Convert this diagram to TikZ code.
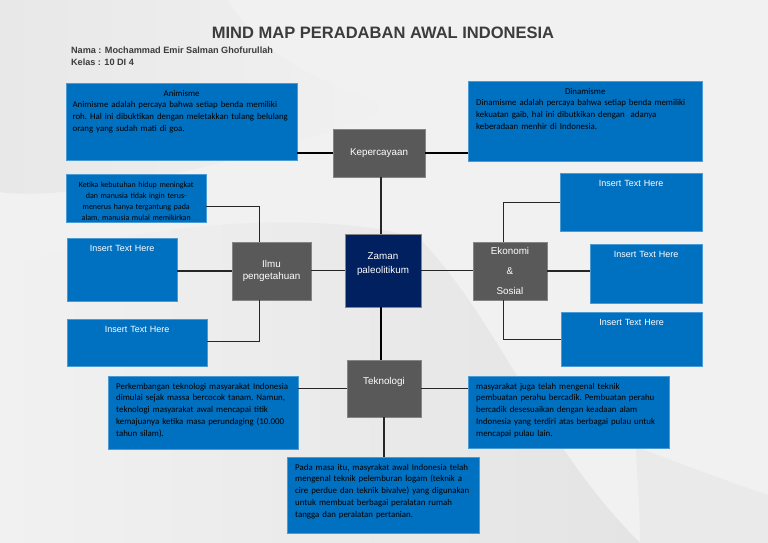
\documentclass[tikz,border=0pt]{standalone}
\usepackage{fontspec}
\setmainfont{Carlito}
\newfontfamily\arialfont{Liberation Sans}
\usetikzlibrary{positioning}
\definecolor{boxblue}{HTML}{0070C0}
\definecolor{boxedge}{HTML}{4A9BD4}
\definecolor{boxgrey}{HTML}{595959}
\definecolor{greyedge}{HTML}{858585}
\definecolor{boxnavy}{HTML}{002060}
\definecolor{titlegrey}{HTML}{3C3C3C}
\definecolor{bgbase}{HTML}{F1F1F1}
\definecolor{bgdark}{HTML}{E4E4E4}
\definecolor{bgtop}{HTML}{E8E8E8}
\definecolor{bgmid}{HTML}{EAEAEA}
\tikzstyle{bluebox} = [draw=boxedge, fill=boxblue, line width=0.3pt, anchor=north west, inner xsep=0.2cm, inner ysep=0.12cm, text height=0.2cm, align=left, text=black, font=\frenchspacing\fontsize{6.3}{8.5}\selectfont]
\tikzstyle{insertbox} = [bluebox, align=center, text=white, font=\arialfont\fontsize{6.4}{8.5}\selectfont]
\tikzstyle{greybox} = [draw=greyedge, fill=boxgrey, line width=0.5pt, align=center, text=white, font=\arialfont\fontsize{7}{8.5}\selectfont, inner sep=0pt]
\tikzstyle{link} = [black!85, line width=0.8pt]
\tikzstyle{thicklink} = [black, line width=1.2pt]
\tikzstyle{heading} = [anchor=west, text=titlegrey, font=\arialfont\bfseries]

\begin{document}
\begin{tikzpicture}
	\useasboundingbox (0,0) rectangle (19.2,13.575);
	% background
	\fill[bgbase] (0,0) rectangle (19.2,13.575);
	\shade[left color=bgtop, right color=bgbase] (0,13.575) -- (5.7,13.575) .. controls (6.6,12) and (8.5,11.3) .. (10,10.9) .. controls (6.5,9.6) and (2,8.5) .. (0,8.775) -- cycle;
	\shade[left color=bgbase, right color=bgdark] (0,6.8) .. controls (3,8) and (8,8.4) .. (10.5,7.6) .. controls (12.5,5.5) and (13.5,2.5) .. (16,0) -- (0,0) -- cycle;
	\fill[bgmid] (15.9,2.4) .. controls (17,2) and (18,1.6) .. (19.2,1.2) -- (19.2,0) -- (16,0) .. controls (16,1) and (15.9,2) .. (15.9,2.4);

	% title
	\node[heading, anchor=center, font=\arialfont\bfseries\fontsize{11.75}{14}\selectfont](title) at (9.575, 12.75){MIND MAP PERADABAN AWAL INDONESIA};
	\node[heading, font=\arialfont\bfseries\fontsize{6.5}{8.5}\selectfont, align=left, inner sep=0pt](nama) at (1.77, 12.175){Nama : Mochammad Emir Salman Ghofurullah\\Kelas : 10 DI 4};

	% center
	\node[greybox, fill=boxnavy, minimum width=1.9cm, minimum height=1.825cm, font=\arialfont\fontsize{7}{10}\selectfont](zaman) at (9.575, 6.8125){Zaman\\paleolitikum\\[0.02cm]};
	\node[greybox, minimum width=2.3cm, minimum height=1.2cm](kepercayaan) at (9.475, 9.75){Kepercayaan};
	\node[greybox, minimum width=1.975cm, minimum height=1.45cm](ilmu) at (6.7875, 6.8){Ilmu\\pengetahuan};
	\node[greybox, minimum width=1.85cm, minimum height=1.45cm, font=\arialfont\fontsize{7}{14}\selectfont](ekonomi) at (12.75, 6.8){Ekonomi\\\&\\Sosial};
	\node[greybox, minimum width=1.85cm, minimum height=1.425cm](teknologi) at (9.6, 3.8625){Teknologi\\[0.075cm]};

	% text boxes
	\node[bluebox, text width=5.45cm, inner xsep=0.16cm, text depth=1.485cm](animisme) at (1.65, 11.5){\makebox[\linewidth]{Animisme}\\Animisme adalah percaya bahwa setiap benda memiliki\\roh. Hal ini dibuktikan dengan meletakkan tulang belulang\\orang yang sudah mati di goa.};
	\node[bluebox, text width=5.45cm, text depth=1.56cm](dinamisme) at (11.7, 11.55){\makebox[\linewidth]{Dinamisme}\\Dinamisme adalah percaya bahwa setiap benda memiliki\\kekuatan gaib, hal ini dibutkikan dengan\ \ adanya\\keberadaan menhir di Indonesia.};
	\node[bluebox, text width=3.1cm, text depth=0.76cm, align=center, font=\fontsize{5.65}{8}\selectfont](ketika) at (1.65, 9.225){Ketika kebutuhan hidup meningkat\\dan manusia tidak ingin terus-\\menerus hanya tergantung pada\\alam, manusia mulai memikirkan};
	\node[insertbox, text width=2.35cm, text depth=1.135cm](ilmukiri) at (1.675, 7.625){Insert Text Here};
	\node[insertbox, text width=3.1cm, text depth=0.735cm](ilmubawah) at (1.675, 5.6){Insert Text Here};
	\node[insertbox, text width=3.15cm, text depth=1.01cm](ekoatas) at (14, 9.25){Insert Text Here};
	\node[insertbox, text width=2.4cm, text depth=1.035cm](ekokanan) at (14.75, 7.475){Insert Text Here};
	\node[insertbox, text width=3.125cm, text depth=0.91cm](ekobawah) at (14.025, 5.775){Insert Text Here};
	\node[bluebox, text width=4.35cm, text depth=1.385cm](tekkiri) at (2.7, 4.175){Perkembangan teknologi masyarakat Indonesia\\dimulai sejak massa bercocok tanam. Namun,\\teknologi masyarakat awal mencapai titik\\kemajuanya ketika masa perundaging (10.000\\tahun silam).};
	\node[bluebox, text width=4.625cm, text depth=1.36cm](tekkanan) at (11.7, 4.175){masyarakat juga telah mengenal teknik\\pembuatan perahu bercadik. Pembuatan perahu\\bercadik desesuaikan dengan keadaan alam\\Indonesia yang terdiri atas berbagai pulau untuk\\mencapai pulau lain.};
	\node[bluebox, text width=4.4cm, text depth=1.46cm](tekbawah) at (7.175, 2.15){Pada masa itu, masyrakat awal Indonesia telah\\mengenal teknik pelemburan logam (teknik a\\cire perdue dan teknik bivalve) yang digunakan\\untuk membuat berbagai peralatan rumah\\tangga dan peralatan pertanian.};

	% connectors
	\draw[thicklink](kepercayaan.west) -- (kepercayaan.west -| animisme.east);
	\draw[thicklink](kepercayaan.east) -- (kepercayaan.east -| dinamisme.west);
	\draw[link](zaman.north) ++(-0.05,0) -- ([xshift=-0.05cm]zaman.north |- kepercayaan.south);
	\draw[thicklink](zaman.south) ++(-0.05,0) -- ([xshift=-0.05cm]zaman.south |- teknologi.north);
	\draw[link](teknologi.south) -- (teknologi.south |- tekbawah.north);
	\draw[link](zaman.west) -- (zaman.west -| ilmu.east);
	\draw[link](zaman.east) -- (zaman.east -| ekonomi.west);
	\draw[link]([yshift=-0.2cm]ketika.east) -| ([xshift=-0.3cm]ilmu.north);
	\draw[link](ilmu.west) -- (ilmu.west -| ilmukiri.east);
	\draw[link]([yshift=0.03cm]ilmubawah.east) -| ([xshift=-0.3cm]ilmu.south);
	\draw[link](ekoatas.west) -| ([xshift=-0.17cm]ekonomi.north);
	\draw[link](ekonomi.east) -- (ekonomi.east -| ekokanan.west);
	\draw[link](ekobawah.west) -| ([xshift=-0.17cm]ekonomi.south);
	\draw[link](teknologi.west) -- (teknologi.west -| tekkiri.east);
	\draw[link](teknologi.east) -- (teknologi.east -| tekkanan.west);
\end{tikzpicture}
\end{document}
